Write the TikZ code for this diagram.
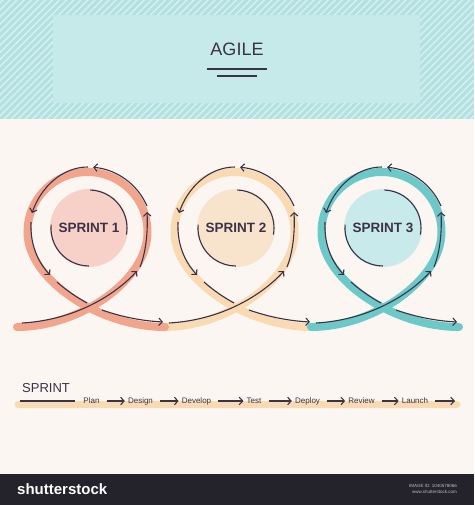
\documentclass[tikz,border=0pt]{standalone}
\usepackage{fontspec}
\setmainfont{Liberation Sans}
\usetikzlibrary{arrows.meta,patterns.meta}

\definecolor{ink}{HTML}{3B3247}
\definecolor{cream}{HTML}{FBF6F1}
\definecolor{headteal}{HTML}{B3E0E0}
\definecolor{panelteal}{HTML}{C6EAEA}
\definecolor{stripe}{HTML}{D5F0F0}
\definecolor{salmon}{HTML}{F2A58D}
\definecolor{salmonlt}{HTML}{F7D1C7}
\definecolor{peach}{HTML}{F9DAB2}
\definecolor{peachlt}{HTML}{F8E4CD}
\definecolor{loopteal}{HTML}{6DC8C8}
\definecolor{seafoam}{HTML}{C8EAEA}
\definecolor{footbar}{HTML}{24232B}

\begin{document}
\begin{tikzpicture}[x=1pt,y=-1pt,
    band/.style={line width=8pt,line cap=round},
    flow/.style={draw=ink,line width=1.1pt,-{Straight Barb[length=3.5pt,width=7.5pt]}},
    plain/.style={draw=ink,line width=1.1pt},
    sprintcircle/.style={circle,minimum size=78pt,inner sep=0pt,text=ink,font=\bfseries\fontsize{13.5}{15}\selectfont},
    tag/.style={font=\fontsize{8}{9}\selectfont,text=ink,inner sep=2pt}]

        \useasboundingbox (0,0) rectangle (474,505);

        % background and header
        \fill[cream] (0,0) rectangle (474,474);
        \fill[headteal] (0,0) rectangle (474,119);
        \fill[pattern={Lines[angle=45,distance=5pt,line width=1.6pt]},pattern color=stripe] (0,0) rectangle (474,119);
        \fill[panelteal] (53,15) rectangle (420,103);

        \node[text=ink,font=\fontsize{18}{20}\selectfont] (agile) at (237,49) {AGILE};
        \draw[ink,line width=2pt] (207,69) -- (267,69);
        \draw[ink,line width=2pt] (217,76) -- (257,76);

        % loop bands
        \draw[peach,band] (164,327) .. controls (227,327) and (294.5,280) .. (294.5,232) arc[start angle=0,end angle=-180,radius=60] .. controls (174.5,280) and (247,327) .. (312,327);
        \draw[salmon,band] (17,327) .. controls (80,327) and (147.5,280) .. (147.5,232) arc[start angle=0,end angle=-180,radius=60] .. controls (27.5,280) and (100,327) .. (165,327);
        \draw[loopteal,band] (311,327) .. controls (374,327) and (441.5,280) .. (441.5,232) arc[start angle=0,end angle=-180,radius=60] .. controls (321.5,280) and (394,327) .. (459,327);

        % sprint 1
        \node[sprintcircle,fill=salmonlt] (sprint1) at (89,228) {SPRINT 1};
        \draw[plain] (90.3,190) arc[start angle=-88,end angle=10,radius=38];
        \draw[plain] (51.1,224.7) arc[start angle=185,end angle=90,radius=38];
        \draw[flow] (22,323) .. controls (75,320) and (115,295) .. (137,271);
        \draw[flow] (140,267) .. controls (146,252) and (148,232) .. (147,212);
        \draw[flow] (147,206) arc[start angle=-23.6,end angle=-85,radius=65];
        \draw[flow] (88,167) .. controls (61.5,167) and (40.6,188) .. (32,213);
        \draw[flow] (31,222) .. controls (30,245) and (38,262) .. (50,275);
        \draw[plain] (57,282) .. controls (66,290) and (76,297) .. (87,303);
        \draw[flow] (102,310) .. controls (125,318) and (145,321) .. (163,322);

        % sprint 2
        \begin{scope}[shift={(147,0)}]
        \node[sprintcircle,fill=peachlt] (sprint2) at (89,228) {SPRINT 2};
        \draw[plain] (90.3,190) arc[start angle=-88,end angle=10,radius=38];
        \draw[plain] (51.1,224.7) arc[start angle=185,end angle=90,radius=38];
        \draw[flow] (22,323) .. controls (75,320) and (115,295) .. (137,271);
        \draw[flow] (140,267) .. controls (146,252) and (148,232) .. (147,212);
        \draw[flow] (147,206) arc[start angle=-23.6,end angle=-85,radius=65];
        \draw[flow] (88,167) .. controls (61.5,167) and (40.6,188) .. (32,213);
        \draw[flow] (31,222) .. controls (30,245) and (38,262) .. (50,275);
        \draw[plain] (57,282) .. controls (66,290) and (76,297) .. (87,303);
        \draw[flow] (102,310) .. controls (125,318) and (145,321) .. (163,322);
        \end{scope}

        % sprint 3
        \begin{scope}[shift={(294,0)}]
        \node[sprintcircle,fill=seafoam] (sprint3) at (89,228) {SPRINT 3};
        \draw[plain] (90.3,190) arc[start angle=-88,end angle=10,radius=38];
        \draw[plain] (51.1,224.7) arc[start angle=185,end angle=90,radius=38];
        \draw[flow] (22,323) .. controls (75,320) and (115,295) .. (137,271);
        \draw[flow] (140,267) .. controls (146,252) and (148,232) .. (147,212);
        \draw[flow] (147,206) arc[start angle=-23.6,end angle=-85,radius=65];
        \draw[flow] (88,167) .. controls (61.5,167) and (40.6,188) .. (32,213);
        \draw[flow] (31,222) .. controls (30,245) and (38,262) .. (50,275);
        \draw[plain] (57,282) .. controls (66,290) and (76,297) .. (87,303);
        \draw[flow] (102,310) .. controls (125,318) and (145,321) .. (163,322);
        \end{scope}

        % sprint timeline
        \draw[peach,line width=7pt,line cap=round] (18,404) -- (457,404);
        \node[anchor=west,inner sep=0pt,text=ink,font=\fontsize{13}{15}\selectfont] (sprintlbl) at (22,388) {SPRINT};
        \coordinate (tlstart) at (20,401);
        \node[tag] (plan) at (91.5,401) {Plan};
        \node[tag] (design) at (140.5,401) {Design};
        \node[tag] (develop) at (196.5,401) {Develop};
        \node[tag] (test) at (254,401) {Test};
        \node[tag] (deploy) at (307.5,401) {Deploy};
        \node[tag] (review) at (361.5,401) {Review};
        \node[tag] (launch) at (415,401) {Launch};
        \coordinate (tlend) at (455,401);

        \draw[plain,shorten >=6pt] (tlstart) -- (plan);
        \draw[flow,shorten <=5pt,shorten >=1pt] (plan) -- (design);
        \draw[flow,shorten <=5pt,shorten >=1pt] (design) -- (develop);
        \draw[flow,shorten <=5pt,shorten >=1pt] (develop) -- (test);
        \draw[flow,shorten <=5pt,shorten >=1pt] (test) -- (deploy);
        \draw[flow,shorten <=5pt,shorten >=1pt] (deploy) -- (review);
        \draw[flow,shorten <=5pt,shorten >=1pt] (review) -- (launch);
        \draw[flow,shorten <=5pt] (launch) -- (tlend);

        % footer
        \fill[footbar] (0,474) rectangle (474,505);
        \node[anchor=west,inner sep=0pt,text=white,font=\bfseries\fontsize{15}{17}\selectfont] (brand) at (17,489) {shutterstock};
        \node[anchor=east,inner sep=0pt,align=right,text=white!70!footbar,font=\fontsize{4.5}{6}\selectfont] (imageid) at (457,489) {IMAGE ID: 1040578066\\www.shutterstock.com};
\end{tikzpicture}
\end{document}
